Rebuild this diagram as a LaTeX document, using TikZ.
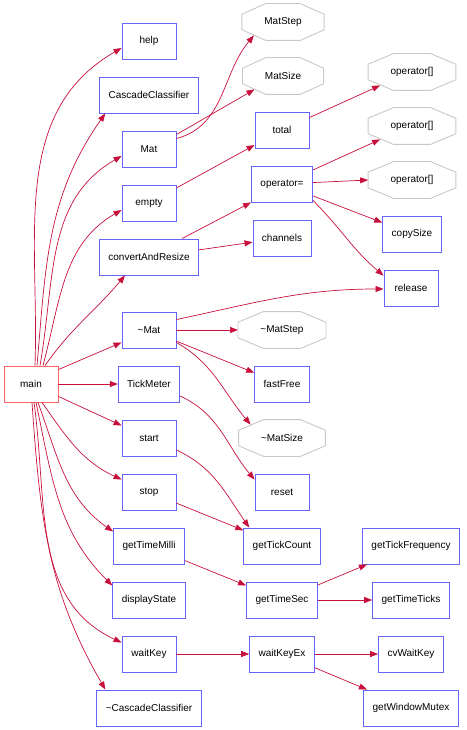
\documentclass[tikz,border=0pt]{standalone}
\usepackage{fontspec}
\setmainfont{Liberation Sans}
\usepackage{tikz}
\usetikzlibrary{arrows.meta, calc}
\definecolor{callred}{HTML}{C8103C}
\definecolor{fnblue}{HTML}{6464F8}
\definecolor{rootred}{HTML}{FF6464}
\definecolor{extgray}{HTML}{C8C8C8}

\begin{document}
\begin{tikzpicture}[x=1pt, y=1pt,
  fn/.style={draw=fnblue, line width=0.9pt, minimum width=54pt, minimum height=36pt,
    inner xsep=9pt, font=\fontsize{10}{12}\selectfont},
  rootfn/.style={fn, draw=rootred},
  extfn/.style={fn, draw=none, inner xsep=22pt},
  call/.style={callred, line width=0.7pt, -{Triangle[length=8pt, width=6pt]}}]
  \useasboundingbox (0,0) rectangle (466,-730);

  % first column: everything main calls
  \node[rootfn] (main) at (31,-384) {main};
  \foreach \n/\y/\t in {help/41/help, cascade/95/CascadeClassifier, mat/149/Mat,
    empty/203/empty, convert/257/convertAndResize, dmat/330/\textasciitilde Mat,
    tickmeter/384/TickMeter, start/438/start, stop/492/stop,
    timemilli/546/getTimeMilli, display/600/displayState, waitkey/654/waitKey,
    dcascade/708/\textasciitilde CascadeClassifier}
    \node[fn] (\n) at (149,-\y) {\t};

  % second column
  \node[extfn] (matstep)  at (283,-22)  {MatStep};
  \node[extfn] (matsize)  at (283,-76)  {MatSize};
  \node[fn]    (total)    at (282,-130) {total};
  \node[fn]    (opeq)     at (282,-184) {operator=};
  \node[fn]    (channels) at (282,-238) {channels};
  \node[extfn] (dmatstep) at (282,-330) {\textasciitilde MatStep};
  \node[fn]    (fastfree) at (282,-384) {fastFree};
  \node[extfn] (dmatsize) at (282,-438) {\textasciitilde MatSize};
  \node[fn]    (reset)    at (282,-492) {reset};
  \node[fn]    (tickcount) at (282,-546) {getTickCount};
  \node[fn]    (timesec)  at (282,-600) {getTimeSec};
  \node[fn]    (waitkeyex) at (282,-654) {waitKeyEx};

  % third column
  \node[extfn] (opa)       at (412,-72)  {operator[]};
  \node[extfn] (opb)       at (412,-126) {operator[]};
  \node[extfn] (opc)       at (412,-180) {operator[]};
  \node[fn]    (copysize)  at (412,-234) {copySize};
  \node[fn]    (release)   at (411,-288) {release};
  \node[fn]    (tickfreq)  at (411,-546) {getTickFrequency};
  \node[fn]    (timeticks) at (411,-600) {getTimeTicks};
  \node[fn]    (cvwaitkey) at (411,-654) {cvWaitKey};
  \node[fn]    (winmutex)  at (411,-708) {getWindowMutex};

  % octagons for the external ones
  \foreach \o in {matstep, matsize, opa, opb, opc, dmatstep, dmatsize}
    \draw[extgray, line width=0.9pt]
      ($(\o.north west)!.29!(\o.north east)$) -- ($(\o.north east)!.29!(\o.north west)$)
      -- ($(\o.north east)!.29!(\o.south east)$) -- ($(\o.south east)!.29!(\o.north east)$)
      -- ($(\o.south east)!.29!(\o.south west)$) -- ($(\o.south west)!.29!(\o.south east)$)
      -- ($(\o.south west)!.29!(\o.north west)$) -- ($(\o.north west)!.29!(\o.south west)$)
      -- cycle;

  % calls out of main
  \draw[call] ([xshift=4pt]main.north) to[out=88, in=210] ([yshift=-7pt]help.west);
  \draw[call] ([xshift=6pt]main.north) to[out=85, in=235] ([xshift=6pt]cascade.south west);
  \draw[call] ([xshift=9pt]main.north) to[out=80, in=210] ([yshift=-7pt]mat.west);
  \draw[call] ([xshift=12pt]main.north) to[out=75, in=210] ([yshift=-7pt]empty.west);
  \draw[call] ([xshift=14pt]main.north) to[out=55, in=230] ([xshift=-24pt]convert.south);
  \draw[call] ([yshift=-4pt]main.north east) -- ([yshift=6pt]dmat.south west);
  \draw[call] (main) -- (tickmeter);
  \draw[call] ([yshift=6pt]main.south east) -- ([yshift=-6pt]start.north west);
  \draw[call] ([xshift=11pt]main.south) to[out=-55, in=155] ([yshift=-6pt]stop.north west);
  \draw[call] ([xshift=7pt]main.south) to[out=-70, in=145] ([yshift=-4pt]timemilli.north west);
  \draw[call] ([xshift=5pt]main.south) to[out=-78, in=135] ([yshift=-4pt]display.north west);
  \draw[call] ([xshift=3pt]main.south) to[out=-82, in=155] ([yshift=-7pt]waitkey.north west);
  \draw[call] ([xshift=1pt]main.south) to[out=-86, in=120] ([xshift=9pt]dcascade.north west);

  % the rest
  \draw[call] ([yshift=-8pt]mat.north east) to[out=15, in=230] ($(matstep.south west)+(12pt,5pt)$);
  \draw[call] ([yshift=-4pt]mat.north east) -- ($(matsize.south west)+(12pt,5pt)$);
  \draw[call] (empty) -- (total);
  \draw[call] (total) -- ($(opa.south west)+(12pt,5pt)$);
  \draw[call] ([xshift=-17pt]convert.north east) -- (opeq.south west);
  \draw[call] (convert) -- (channels);
  \draw[call] (opeq) -- ($(opb.south west)+(12pt,5pt)$);
  \draw[call] (opeq) -- (opc.west);
  \draw[call] (opeq) -- (copysize);
  \draw[call] ([yshift=2pt]opeq.south east) to[out=-45, in=140] ([yshift=-6pt]release.north west);
  \draw[call] ([yshift=-8pt]dmat.north east) to[out=12, in=180] ([yshift=-1pt]release.west);
  \draw[call] (dmat) -- (dmatstep.west);
  \draw[call] (dmat) -- (fastfree);
  \draw[call] ([yshift=6pt]dmat.south east) to[out=-30, in=130] ($(dmatsize.north west)+(12pt,-5pt)$);
  \draw[call] ([yshift=-12pt]tickmeter.east) to[out=-25, in=130] ([yshift=-6pt]reset.north west);
  \draw[call] ([yshift=-12pt]start.east) to[out=-25, in=125] ([xshift=6pt]tickcount.north west);
  \draw[call] (stop) -- (tickcount);
  \draw[call] (timemilli) -- (timesec);
  \draw[call] (timesec) -- (tickfreq);
  \draw[call] (timesec) -- (timeticks);
  \draw[call] (waitkey) -- (waitkeyex);
  \draw[call] (waitkeyex) -- (cvwaitkey);
  \draw[call] (waitkeyex) -- (winmutex);
\end{tikzpicture}
\end{document}
